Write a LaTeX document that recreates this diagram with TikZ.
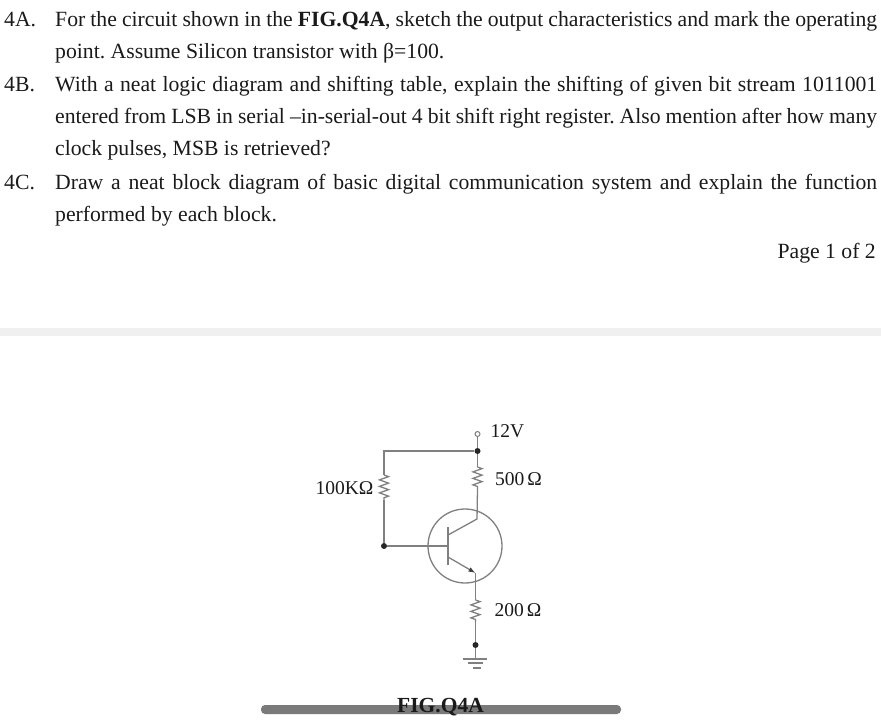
\documentclass[tikz,border=0pt]{standalone}
\usepackage{fontspec}
\setmainfont{Liberation Serif}
\usetikzlibrary{positioning,calc,arrows.meta,decorations.pathmorphing}
\definecolor{wireGray}{HTML}{808080}
\definecolor{barGray}{HTML}{7A7A7A}
\definecolor{bandGray}{HTML}{F0F0F0}
\definecolor{textBlack}{HTML}{1A1A1A}
\tikzstyle{question}=[anchor=north west,inner sep=0pt,text width=822pt,align=justify,text=textBlack,
  font=\fontsize{21.7}{32}\selectfont\frenchspacing]
\tikzstyle{tag}=[anchor=base west,inner sep=0pt,text=textBlack,font=\fontsize{21.7}{32}\selectfont]
\tikzstyle{label}=[inner sep=0pt,text=textBlack,font=\fontsize{19.5}{22}\selectfont]
\tikzstyle{wire}=[draw=wireGray,line width=1.3pt]
\tikzstyle{res}=[wire,decorate,decoration={zigzag,amplitude=4.5pt,segment length=6.5pt}]
\tikzstyle{junction}=[circle,fill=black!85,inner sep=0pt,minimum size=6pt]
\begin{document}
\begin{tikzpicture}[x=1pt,y=-1pt,>={Latex[length=7pt,width=5pt,color=black!75]}]
      \useasboundingbox (0,0) rectangle (881,720);
      % questions
      \node[tag] (t4a) at (4,26) {4A.};
      \node[question] (q4a) at (55,11) {For the circuit shown in the \textbf{FIG.Q4A}, sketch the output characteristics and mark the operating\linebreak point. Assume Silicon transistor with β=100.};
      \node[tag] (t4b) at (4,91) {4B.};
      \node[question] (q4b) at (55,76) {With a neat logic diagram and shifting table, explain the shifting of given bit stream 1011001\linebreak entered from LSB in serial –in-serial-out 4 bit shift right register. Also mention after how many\linebreak clock pulses, MSB is retrieved?};
      \node[tag] (t4c) at (4,189) {4C.};
      \node[question] (q4c) at (55,174) {Draw a neat block diagram of basic digital communication system and explain the function\linebreak performed by each block.};
      \node[tag,anchor=base east] (page) at (876,258) {Page 1 of 2};
      \fill[bandGray] (0,328) rectangle (881,336);
      % circuit
      \node[circle,draw=wireGray,line width=1pt,inner sep=0pt,minimum size=5pt] (vcc) at (477.5,434) {};
      \node[junction] (top) at (477.5,451) {};
      \coordinate (corner) at (384,451);
      \node[junction] (basedot) at (384,546) {};
      \node[circle,draw=wireGray,line width=1.3pt,inner sep=0pt,minimum size=74pt] (tr) at (465,546) {};
      \coordinate (rbt) at (384,475);
      \coordinate (rbb) at (384,500);
      \coordinate (rct) at (477.5,467);
      \coordinate (rcb) at (477.5,489);
      \coordinate (coll) at (477,519);
      \coordinate (emit) at (475.5,573);
      \coordinate (ret) at (475.5,600);
      \coordinate (reb) at (475.5,622);
      \node[junction] (gnd) at (475.5,645) {};
      \coordinate (gndbar) at (475.5,659);
      \coordinate (bar1) at (448,527);
      \coordinate (bar2) at (448,565);
      \draw[wire] (vcc) -- (top) -- (corner) -- (rbt);
      \draw[res] (rbt) -- (rbb);
      \draw[wire] (rbb) -- (basedot) -- (448,546);
      \draw[wire] (bar1) -- (bar2);
      \draw[wire] (top) -- (rct);
      \draw[res] (rct) -- (rcb);
      \draw[wire] (rcb) -- (coll) -- (448,535);
      \draw[wire,->] (448,557) -- (emit);
      \draw[wire] (emit) -- (ret);
      \draw[res] (ret) -- (reb);
      \draw[wire] (reb) -- (gnd) -- (gndbar);
      \draw[wire] (463,659) -- (487,659);
      \draw[wire] (468,663) -- (483,663);
      \draw[wire] (473,668) -- (481,668);
      \node[label] (v12) at (507.5,431) {12V};
      \node[label] (r500) at (518.5,479) {500\,Ω};
      \node[label] (r100) at (344.5,488) {100KΩ};
      \node[label] (r200) at (518,610) {200\,Ω};
      % caption bar
      \fill[barGray,rounded corners=4pt] (261,705) rectangle (621,714);
      \node[label,font=\fontsize{21.5}{22}\selectfont\bfseries] (fig) at (440.5,707) {FIG.Q4A};
\end{tikzpicture}
\end{document}
